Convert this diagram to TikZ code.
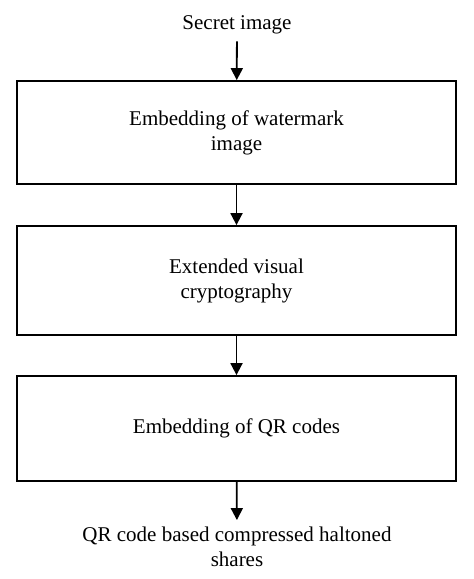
\documentclass[tikz,border=0pt]{standalone}
\usepackage{fontspec}
\setmainfont{Liberation Serif}
\usepackage{xcolor}
\usepackage{tikz}
\usetikzlibrary{arrows.meta, positioning}

\begin{document}
\begin{tikzpicture}[
    x=0.5pt, y=-0.5pt, % pixel-like coordinates
    every node/.style={font=\fontsize{10.5}{12.5}\selectfont, align=center},
    stage/.style={draw, rectangle, line width=0.9pt, minimum width=219.5pt},
    edge/.style={-{Triangle[length=6pt, width=6pt]}, line width=0.9pt}
]
\useasboundingbox (0,0) rectangle (474,579);

% Input and output texts
\node (secret) at (237, 25) {Secret image};
\node (shares) at (237, 547) {QR code based compressed haltoned\\shares};

% Stages
\node[stage, minimum height=51.5pt] (embed) at (236.5, 132.5) {Embedding of watermark\\image};
\node[stage, minimum height=54.5pt] (evc) at (236.5, 280.5) {Extended visual\\cryptography};
\node[stage, minimum height=52.5pt] (qrembed) at (236.5, 428.5) {Embedding of QR codes};

% Edges
\draw[edge] (secret) -- (embed);
\draw[edge] (embed) -- (evc);
\draw[edge] (evc) -- (qrembed);
\draw[edge] (qrembed) -- (shares);

\end{tikzpicture}
\end{document}
